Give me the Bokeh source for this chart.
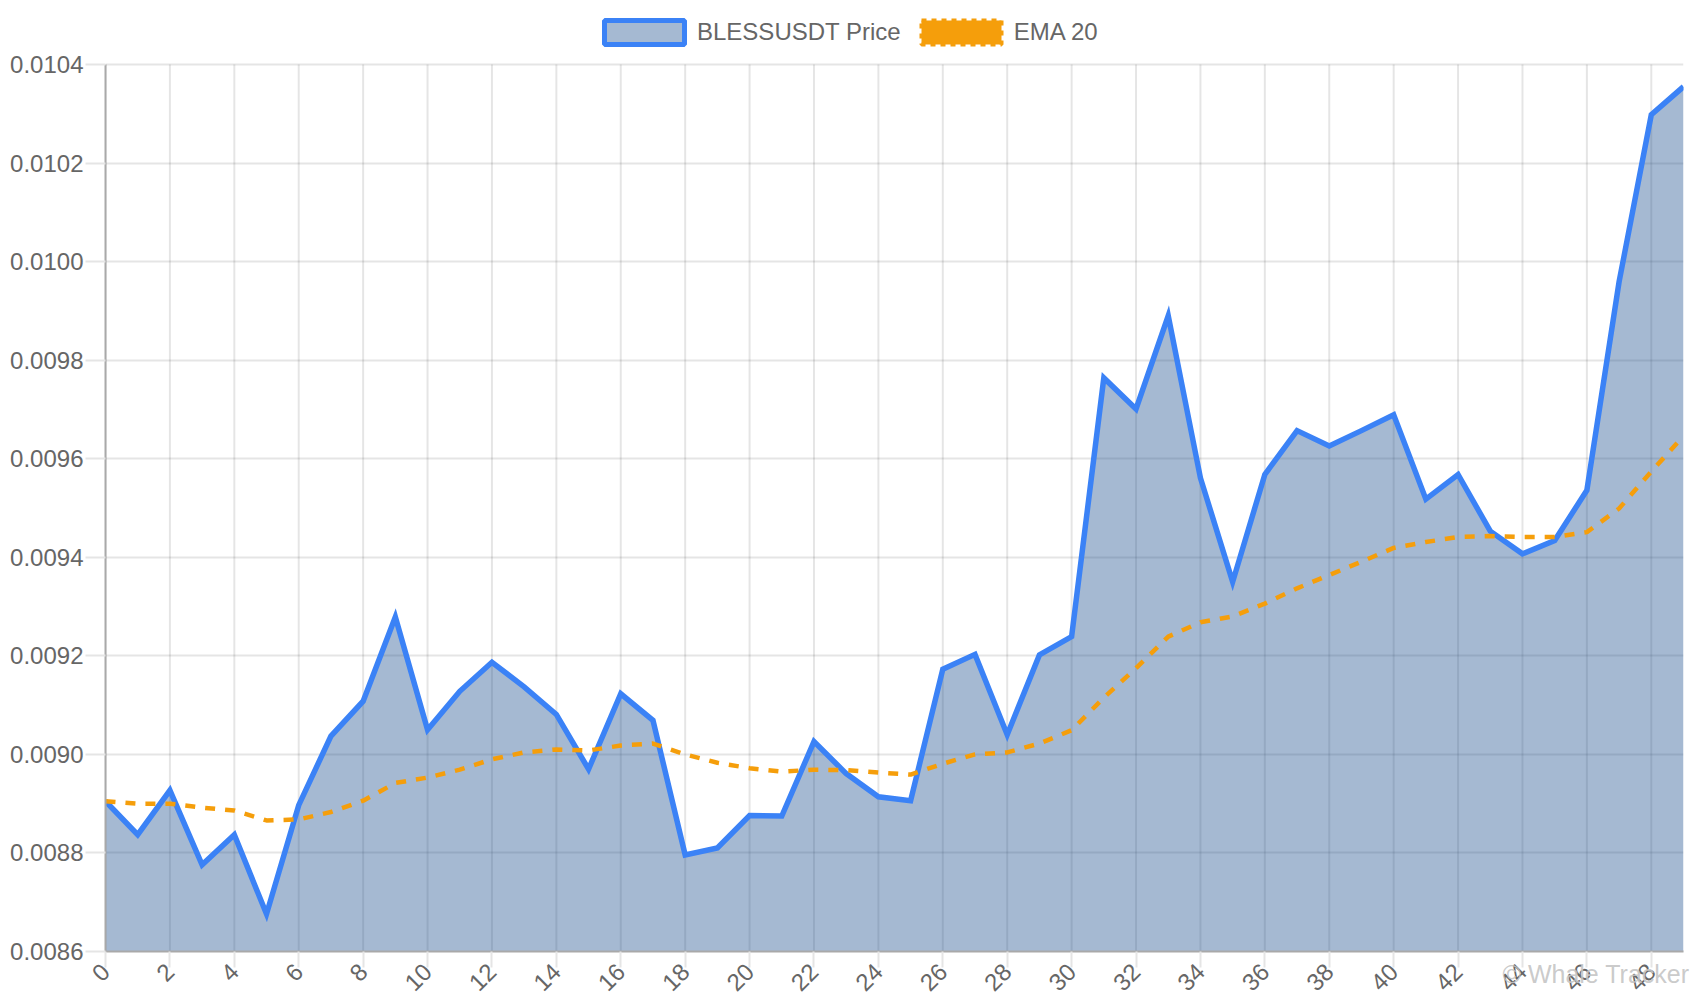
import math
from bokeh.plotting import figure
from bokeh.models import (Range1d, FixedTicker, PrintfTickFormatter, Legend,
                          LegendItem, ColumnDataSource)
from bokeh.embed import file_html
from bokeh.resources import INLINE

# ---- data ----
idx = list(range(50))
price = [0.008905, 0.008837, 0.008927, 0.008776, 0.008837, 0.008676, 0.008897, 0.009037, 0.009108, 0.009279,
         0.009050, 0.009128, 0.009187, 0.009137, 0.009081, 0.008970, 0.009123, 0.009069, 0.008796, 0.008810,
         0.008876, 0.008875, 0.009026, 0.008961, 0.008914, 0.008906, 0.009173, 0.009203, 0.009040, 0.009202,
         0.009239, 0.009764, 0.009701, 0.009890, 0.009561, 0.009350, 0.009568, 0.009657, 0.009626, 0.009657,
         0.009689, 0.009518, 0.009568, 0.009453, 0.009407, 0.009434, 0.009536, 0.009959, 0.010298, 0.010355]
ema20 = [0.008905, 0.008900, 0.008900, 0.008892, 0.008886, 0.008866, 0.008868, 0.008883, 0.008906, 0.008942,
         0.008953, 0.008969, 0.008990, 0.009004, 0.009010, 0.009008, 0.009018, 0.009022, 0.009000, 0.008983,
         0.008972, 0.008965, 0.008969, 0.008968, 0.008963, 0.008959, 0.008981, 0.009000, 0.009004, 0.009022,
         0.009049, 0.009115, 0.009175, 0.009239, 0.009268, 0.009280, 0.009306, 0.009337, 0.009364, 0.009391,
         0.009419, 0.009431, 0.009441, 0.009443, 0.009441, 0.009441, 0.009451, 0.009499, 0.009574, 0.009646]
x_ticks = list(range(0, 50, 2))
y_ticks = [0.0086, 0.0088, 0.0090, 0.0092, 0.0094, 0.0096, 0.0098, 0.0100, 0.0102, 0.0104]
series_names = ["BLESSUSDT Price", "EMA 20"]
watermark = "© Whale Tracker"

BLUE = "#3b82f6"
FILL = "#1f4f8f"
ORANGE = "#f59e0b"
TXT = "#666666"
FONT = "Liberation Sans"

W, H = 1700, 1000
BOTTOM = 49                   # x axis sits 49 px above the canvas bottom
HEAD = 64                     # space between canvas top and the 0.0104 line
Y0, Y1 = y_ticks[0], y_ticks[-1]
FRAME_H = H - BOTTOM
PLOT_H = FRAME_H - HEAD
y_top = Y1 + (Y1 - Y0) * HEAD / PLOT_H   # headroom inside the frame for the legend

src = ColumnDataSource(dict(x=idx, price=price, ema=ema20, base=[0.0] * len(idx)))

p = figure(width=W, height=H,
           output_backend="svg", toolbar_location=None,
           x_range=Range1d(0, 49), y_range=Range1d(Y0, y_top),
           min_border_left=105, min_border_top=0, min_border_right=17, min_border_bottom=BOTTOM,
           outline_line_color=None, background_fill_color="white", border_fill_color="white")

# grid: horizontal lines from the grid, vertical lines limited to the value span
p.xgrid.visible = False
p.ygrid.ticker = FixedTicker(ticks=y_ticks)
p.ygrid.grid_line_color = "black"
p.ygrid.grid_line_alpha = 0.1
p.ygrid.grid_line_width = 2
p.segment(x0=x_ticks, y0=[Y0] * len(x_ticks), x1=x_ticks, y1=[Y1] * len(x_ticks),
          line_color="black", line_alpha=0.1, line_width=2)

# axes
xa = p.xaxis[0]
xa.ticker = FixedTicker(ticks=x_ticks)
xa.major_label_orientation = math.pi / 4
xa.major_tick_out = 16
xa.major_tick_in = 0
xa.minor_tick_out = 0
xa.minor_tick_in = 0
xa.major_label_standoff = 0
# watermark drawn as the (centred) x axis label, padded on the left so that it
# ends at the right edge and overlaps the last tick labels like the reference
xa.axis_label = "\u00a0" * 202 + watermark
xa.axis_label_text_font = FONT
xa.axis_label_text_font_style = "normal"
xa.axis_label_text_font_size = "25px"
xa.axis_label_text_color = "#c4c4c4"
xa.axis_label_text_alpha = 0.9
xa.axis_label_standoff = -41

ya = p.yaxis[0]
ya.ticker = FixedTicker(ticks=y_ticks)
ya.formatter = PrintfTickFormatter(format="%.4f")
ya.bounds = (Y0, Y1)
ya.major_tick_out = 20
ya.major_tick_in = 0
ya.minor_tick_out = 0
ya.minor_tick_in = 0
ya.major_label_standoff = 2

for a in (xa, ya):
    a.axis_line_color = "#a9a9a9"
    a.axis_line_width = 2
    a.major_tick_line_color = "#e5e5e5"
    a.major_tick_line_width = 2
    a.major_label_text_color = TXT
    a.major_label_text_font = FONT
    a.major_label_text_font_size = "24px"

# series
p.varea(x="x", y1="base", y2="price", source=src, fill_color=FILL, fill_alpha=0.4)
p.line(x="x", y="price", source=src, line_color=BLUE, line_width=5.5, line_join="miter")
p.line(x="x", y="ema", source=src, line_color=ORANGE, line_width=4.5, line_dash="10 10")

# legend swatches (boxes like the reference); their single quad sits outside the visible range
leg_price = p.quad(left=[-10], right=[-9], top=[0.0], bottom=[0.0], fill_color=FILL, fill_alpha=0.4,
                   line_color=BLUE, line_width=5)
leg_ema = p.quad(left=[-10], right=[-9], top=[0.0], bottom=[0.0], fill_color=ORANGE,
                 line_color=ORANGE, line_width=4, line_dash="5 5")
legend = Legend(items=[LegendItem(label=series_names[0], renderers=[leg_price]),
                       LegendItem(label=series_names[1], renderers=[leg_ema])],
                orientation="horizontal", location=(489, PLOT_H + 17),
                glyph_width=100, glyph_height=30, label_height=30,
                label_standoff=3, spacing=10, padding=0, margin=0,
                border_line_color=None, background_fill_alpha=0,
                label_text_font=FONT, label_text_font_size="24px",
                label_text_color=TXT, label_text_baseline="middle")
p.add_layout(legend, "center")

open("out.html", "w").write(file_html(p, INLINE))
